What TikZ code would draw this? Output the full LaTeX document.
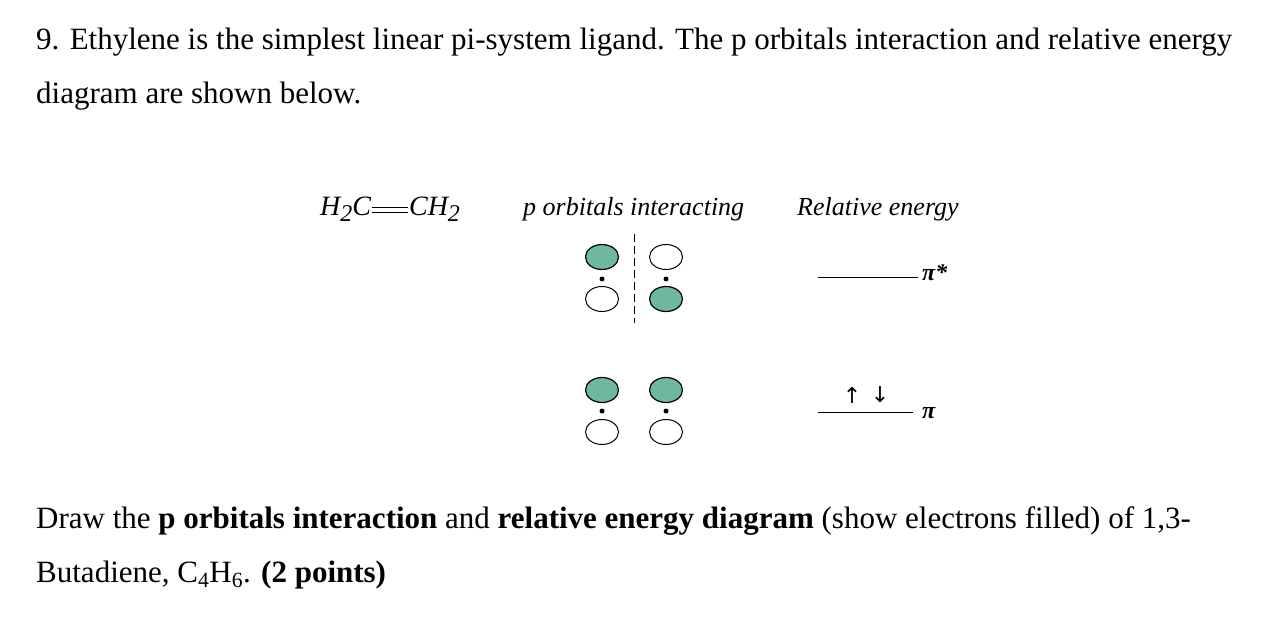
\documentclass[tikz,border=0pt]{standalone}
\usepackage{fontspec}
\usetikzlibrary{shapes.geometric}
\setmainfont{Liberation Serif}
\newfontfamily\arrfont{DejaVu Sans}
\definecolor{lobe}{HTML}{6FB8A0}
\begin{document}
\begin{tikzpicture}[x=1pt,y=-1pt,
  txt/.style={anchor=base west,inner sep=0pt,font=\fontsize{31}{34}\selectfont},
  hdr/.style={anchor=base west,inner sep=0pt,font=\fontsize{26}{30}\selectfont\itshape},
  full/.style={draw,line width=1.2pt,fill=lobe,ellipse,minimum width=33,minimum height=25,inner sep=0pt},
  empty/.style={draw,line width=1pt,fill=white,ellipse,minimum width=33,minimum height=25,inner sep=0pt},
  dotn/.style={circle,fill,inner sep=0pt,minimum size=5},
  lvl/.style={line width=0.9pt}]
\useasboundingbox (0,0) rectangle (1268,636);
\node[txt] (l1) at (36,50) {9. Ethylene is the simplest linear pi-system ligand. The p orbitals interaction and relative energy};
\node[txt] (l2) at (36,104) {diagram are shown below.};
\node[txt] (l3) at (36,528) {Draw the \textbf{p orbitals interaction} and \textbf{relative energy diagram} (show electrons filled) of 1,3-};
\node[txt] (l4) at (36,582) {Butadiene, C\textsubscript{4}H\textsubscript{6}. \textbf{(2 points)}};
\node[hdr,font=\fontsize{28}{30}\selectfont\itshape] (h1) at (320,216) {H\raisebox{-0.45ex}{\fontsize{24}{24}\selectfont 2}C\hspace{1pt}\raisebox{0.22ex}{\rule{36pt}{1.1pt}}\hspace{-36pt}\raisebox{0.6ex}{\rule{36pt}{1.1pt}}\hspace{1pt}CH\raisebox{-0.45ex}{\fontsize{24}{24}\selectfont 2}};
\node[hdr] (h2) at (523,216) {p orbitals interacting};
\node[hdr] (h3) at (797,216) {Relative energy};
% pi*
\node[full] (a1) at (602,257) {};
\node[dotn] (d1) at (602,279) {};
\node[empty] (a2) at (602,299) {};
\node[empty] (b1) at (666,257) {};
\node[dotn] (d2) at (666,279) {};
\node[full] (b2) at (666,299) {};
\coordinate (nt) at (634,234);
\coordinate (nb) at (634,323);
\draw[line width=0.9pt,dash pattern=on 8pt off 4pt] (nt) -- (nb);
% pi
\node[full] (c1) at (602,390) {};
\node[dotn] (d3) at (602,411) {};
\node[empty] (c2) at (602,432) {};
\node[full] (e1) at (666,390) {};
\node[dotn] (d4) at (666,411) {};
\node[empty] (e2) at (666,432) {};
% levels
\coordinate (ps1) at (818,277);
\coordinate (ps2) at (918,277);
\draw[lvl] (ps1) -- (ps2);
\node[anchor=west,inner sep=1pt,font=\fontsize{24}{24}\selectfont\bfseries\itshape] (pst) at (921,273) {π*};
\coordinate (p1) at (818,412);
\coordinate (p2) at (913,412);
\draw[lvl] (p1) -- (p2);
\node[anchor=west,inner sep=1pt,font=\fontsize{24}{24}\selectfont\bfseries\itshape] (pt) at (921,413) {π};
\node[inner sep=0pt,font=\fontsize{22}{24}\arrfont] (up) at (852,395) {↑};
\node[inner sep=0pt,font=\fontsize{22}{24}\arrfont] (dn) at (880,395) {↓};
\end{tikzpicture}
\end{document}
